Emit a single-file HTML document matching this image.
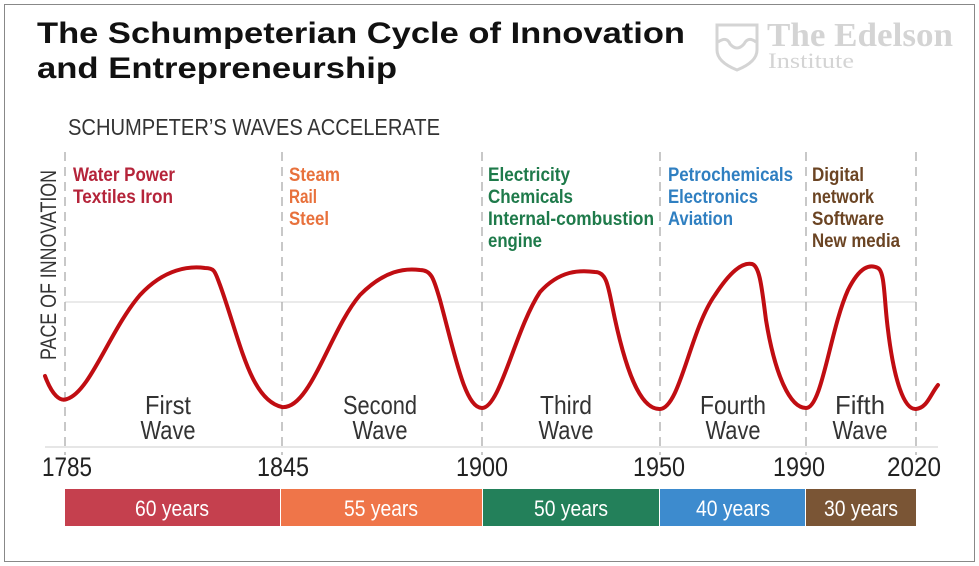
<!DOCTYPE html>
<html><head><meta charset="utf-8"><style>
html,body{margin:0;padding:0;background:#fff;}
svg{display:block;}
</style></head><body>
<svg width="979" height="566" viewBox="0 0 979 566" xmlns="http://www.w3.org/2000/svg" font-family="Liberation Sans, sans-serif">
<rect x="4.5" y="4.5" width="970" height="557" fill="#fff" stroke="#888" stroke-width="1"/>
<text x="37" y="43" font-size="30" font-weight="bold" fill="#111" textLength="648" lengthAdjust="spacingAndGlyphs">The Schumpeterian Cycle of Innovation</text>
<text x="37" y="78" font-size="30" font-weight="bold" fill="#111" textLength="360" lengthAdjust="spacingAndGlyphs">and Entrepreneurship</text>
<g fill="none" stroke="#d4d4d4" stroke-width="3">
<path d="M717 25 L757 25 L757 50 Q757 62 737 70 Q717 62 717 50 Z"/>
<path d="M718 42 Q727 36 730 44 Q737 52 744 44 Q748 36 756 42"/>
</g>
<text x="767" y="46" font-family="Liberation Serif, serif" font-size="34" font-weight="bold" fill="#d4d4d4" textLength="186" lengthAdjust="spacingAndGlyphs">The Edelson</text>
<text x="768" y="68" font-family="Liberation Serif, serif" font-size="22" fill="#d4d4d4" textLength="86" lengthAdjust="spacingAndGlyphs">Institute</text>
<text x="68" y="135" font-size="23" fill="#333" textLength="372" lengthAdjust="spacingAndGlyphs">SCHUMPETER’S WAVES ACCELERATE</text>
<text transform="translate(56,360) rotate(-90)" font-size="22" fill="#333" textLength="190" lengthAdjust="spacingAndGlyphs">PACE  OF INNOVATION</text>
<line x1="45" y1="447" x2="938" y2="447" stroke="#ddd" stroke-width="1.5"/>
<line x1="65" y1="302" x2="916" y2="302" stroke="#e4e4e4" stroke-width="1.5"/>
<g stroke="#aaa" stroke-width="1.3" stroke-dasharray="9,6">
<line x1="65" y1="152" x2="65" y2="455"/>
<line x1="282" y1="152" x2="282" y2="455"/>
<line x1="482" y1="152" x2="482" y2="455"/>
<line x1="660" y1="152" x2="660" y2="455"/>
<line x1="806" y1="152" x2="806" y2="455"/>
<line x1="916" y1="152" x2="916" y2="455"/>
</g>
<g font-size="19" font-weight="bold">
<g fill="#b5243a"><text x="73" y="181" textLength="102" lengthAdjust="spacingAndGlyphs">Water Power</text><text x="73" y="203" textLength="100" lengthAdjust="spacingAndGlyphs">Textiles Iron</text></g>
<g fill="#e8713c"><text x="289" y="181" textLength="51" lengthAdjust="spacingAndGlyphs">Steam</text><text x="289" y="203" textLength="28" lengthAdjust="spacingAndGlyphs">Rail</text><text x="289" y="225" textLength="40" lengthAdjust="spacingAndGlyphs">Steel</text></g>
<g fill="#1e7a4a"><text x="488" y="181" textLength="82" lengthAdjust="spacingAndGlyphs">Electricity</text><text x="488" y="203" textLength="85" lengthAdjust="spacingAndGlyphs">Chemicals</text><text x="488" y="225" textLength="166" lengthAdjust="spacingAndGlyphs">Internal-combustion</text><text x="488" y="247" textLength="54" lengthAdjust="spacingAndGlyphs">engine</text></g>
<g fill="#2f7fc1"><text x="668" y="181" textLength="125" lengthAdjust="spacingAndGlyphs">Petrochemicals</text><text x="668" y="203" textLength="90" lengthAdjust="spacingAndGlyphs">Electronics</text><text x="668" y="225" textLength="65" lengthAdjust="spacingAndGlyphs">Aviation</text></g>
<g fill="#6b4423"><text x="812" y="181" textLength="52" lengthAdjust="spacingAndGlyphs">Digital</text><text x="812" y="203" textLength="62" lengthAdjust="spacingAndGlyphs">network</text><text x="812" y="225" textLength="72" lengthAdjust="spacingAndGlyphs">Software</text><text x="812" y="247" textLength="88" lengthAdjust="spacingAndGlyphs">New media</text></g>
</g>
<path fill="none" stroke="#c00d12" stroke-width="4" stroke-linecap="round" d="M45 376 C52 395 60 402 67 399 C90 392 110 330 140 295 C165 268 190 266 205 268 C215 268 215 272 220 285 C240 340 250 400 282 407 C310 410 330 330 360 295 C385 270 405 268 420 270 C432 270 434 280 440 300 C455 355 465 408 482 408 C500 408 515 330 540 292 C560 270 580 270 595 272 C606 272 608 285 612 305 C625 370 640 410 660 409 C680 408 690 330 715 295 C730 272 742 262 752 264 C760 266 762 290 766 320 C775 375 790 408 806 408 C822 408 830 330 848 290 C860 266 870 264 878 268 C885 272 884 300 888 330 C894 380 904 410 916 409 C927 408 930 395 938 385"/>
<g font-size="26" fill="#333" text-anchor="middle">
<text x="168" y="414" textLength="46" lengthAdjust="spacingAndGlyphs">First</text><text x="168" y="439" textLength="55" lengthAdjust="spacingAndGlyphs">Wave</text>
<text x="380" y="414" textLength="74" lengthAdjust="spacingAndGlyphs">Second</text><text x="380" y="439" textLength="55" lengthAdjust="spacingAndGlyphs">Wave</text>
<text x="566" y="414" textLength="52" lengthAdjust="spacingAndGlyphs">Third</text><text x="566" y="439" textLength="55" lengthAdjust="spacingAndGlyphs">Wave</text>
<text x="733" y="414" textLength="66" lengthAdjust="spacingAndGlyphs">Fourth</text><text x="733" y="439" textLength="55" lengthAdjust="spacingAndGlyphs">Wave</text>
<text x="860" y="414" textLength="50" lengthAdjust="spacingAndGlyphs">Fifth</text><text x="860" y="439" textLength="55" lengthAdjust="spacingAndGlyphs">Wave</text>
</g>
<g font-size="27" fill="#222" text-anchor="middle">
<text x="67" y="476" textLength="50" lengthAdjust="spacingAndGlyphs">1785</text>
<text x="283" y="476" textLength="52" lengthAdjust="spacingAndGlyphs">1845</text>
<text x="482" y="476" textLength="52" lengthAdjust="spacingAndGlyphs">1900</text>
<text x="659" y="476" textLength="52" lengthAdjust="spacingAndGlyphs">1950</text>
<text x="799" y="476" textLength="52" lengthAdjust="spacingAndGlyphs">1990</text>
<text x="914" y="476" textLength="54" lengthAdjust="spacingAndGlyphs">2020</text>
</g>
<rect x="65" y="489" width="215" height="37" fill="#c5404e"/>
<rect x="281" y="489" width="201" height="37" fill="#ef7549"/>
<rect x="483" y="489" width="176" height="37" fill="#23805a"/>
<rect x="660" y="489" width="145" height="37" fill="#3d8bce"/>
<rect x="806" y="489" width="110" height="37" fill="#7a5535"/>
<g font-size="22" fill="#fff" text-anchor="middle">
<text x="172" y="516" textLength="74" lengthAdjust="spacingAndGlyphs">60 years</text>
<text x="381" y="516" textLength="74" lengthAdjust="spacingAndGlyphs">55 years</text>
<text x="571" y="516" textLength="74" lengthAdjust="spacingAndGlyphs">50 years</text>
<text x="733" y="516" textLength="74" lengthAdjust="spacingAndGlyphs">40 years</text>
<text x="861" y="516" textLength="74" lengthAdjust="spacingAndGlyphs">30 years</text>
</g>
</svg>
</body></html>
